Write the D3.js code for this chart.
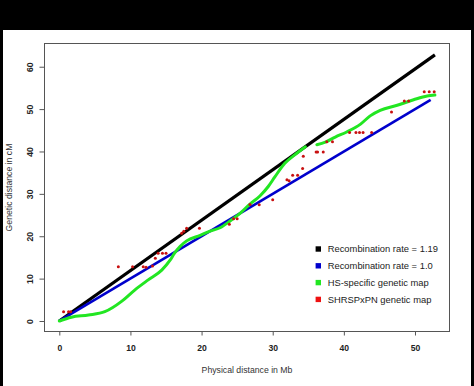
<!DOCTYPE html>
<html>
<head>
<meta charset="utf-8">
<script src="https://cdn.jsdelivr.net/npm/d3@7"></script>
<style>
  body { margin: 0; background: #000; }
  svg { display: block; }
  text { font-family: "Liberation Sans", Arial, sans-serif; }
</style>
</head>
<body>
<svg id="chart" width="474" height="386"></svg>
<script>
// recombination rate lines (end points)
const blackX = [0, 52.8];
const blackY = [0, 62.8];
const blueX = [0, 52.2];
const blueY = [0, 52.2];

// HS-specific genetic map (null = break in the line)
const greenX = [0, 1.7, 4.1, 6.4, 8.8, 10.6, 12.5, 14.4, 15.6, 16.2, 17.0, 17.9, 19.8, 21.2, 22.6, 24.0, 25.4,
  26.8, 28.2, 29.4, 30.3, 31.7, 33.1, 34.6, null, 36.2, 37.4, 38.8, 40.4, 42.3, 43.7, 45.1, 47.5, 49.8, 51.7, 52.8];
const greenY = [0, 0.9, 1.4, 2.2, 4.7, 7.3, 9.7, 12.0, 14.4, 16.0, 17.6, 18.9, 20.2, 21.2, 22.0, 23.6, 25.4,
  27.6, 29.5, 31.8, 34.0, 37.2, 39.2, 41.1, null, 41.6, 42.2, 43.4, 44.6, 46.4, 48.4, 49.7, 50.9, 52.2, 53.1, 53.3];

// SHRSPxPN genetic map markers
const redX = [0.6, 1.3, 1.6, 8.3, 10.3, 11.8, 12.2, 13.1, 13.5, 13.9, 14.5, 15.0, 17.2, 17.5, 17.9, 19.7,
  23.9, 24.5, 25.0, 26.8, 28.1, 30.0, 32.0, 32.3, 32.8, 33.5, 34.2, 34.3, 36.1, 36.3, 37.1, 37.6, 38.4,
  40.8, 41.7, 42.2, 42.7, 43.9, 46.7, 48.5, 49.1, 51.3, 52.0, 52.7];
const redY = [2.2, 2.2, 2.2, 12.8, 12.8, 12.8, 12.7, 13.0, 14.8, 16.0, 16.0, 16.0, 20.7, 21.2, 21.9, 21.9,
  22.8, 24.1, 24.1, 27.5, 27.4, 28.6, 33.3, 33.1, 34.4, 34.4, 36.0, 38.9, 39.9, 39.9, 39.9, 42.3, 42.3,
  44.5, 44.5, 44.5, 44.5, 44.5, 49.3, 51.9, 51.9, 54.1, 54.1, 54.1];

const xTicks = [0, 10, 20, 30, 40, 50];
const yTicks = [0, 10, 20, 30, 40, 50, 60];

const legendLabels = ['Recombination rate = 1.19', 'Recombination rate = 1.0', 'HS-specific genetic map', 'SHRSPxPN genetic map'];
const legendColors = ['#000000', '#0000cc', '#22e622', '#ee1111'];

const svg = d3.select('#chart');

// white page on black frame
svg.append('rect').attr('x', 3).attr('y', 30).attr('width', 468).attr('height', 356).attr('fill', '#fff');

const box = {left: 44.5, right: 449.5, top: 43.5, bottom: 331.5};

const x = d3.scaleLinear().domain([-2.08, 54.85]).range([box.left, box.right]);
const y = d3.scaleLinear().domain([-2.48, 65.48]).range([box.bottom, box.top]);

svg.append('rect')
  .attr('x', box.left).attr('y', box.top)
  .attr('width', box.right - box.left).attr('height', box.bottom - box.top)
  .attr('fill', 'none').attr('stroke', '#555').attr('stroke-width', 1);

// axes
const gx = svg.append('g')
  .attr('transform', `translate(0,${box.bottom})`)
  .call(d3.axisBottom(x).tickValues(xTicks).tickSize(4).tickPadding(9).tickSizeOuter(0));
gx.select('.domain').remove();

const gy = svg.append('g')
  .attr('transform', `translate(${box.left},0)`)
  .call(d3.axisLeft(y).tickValues(yTicks).tickSize(5).tickSizeOuter(0));
gy.select('.domain').remove();
gy.selectAll('.tick text')
  .attr('x', 0).attr('dy', 0)
  .attr('text-anchor', 'middle')
  .attr('transform', 'translate(-11.5,0) rotate(-90)');

svg.selectAll('.tick line').attr('stroke', '#555');
svg.selectAll('.tick text')
  .style('font-size', '8.6px')
  .style('font-weight', 'bold')
  .attr('fill', '#222');

// titles
svg.append('text')
  .attr('x', (box.left + box.right) / 2).attr('y', 372.5)
  .attr('text-anchor', 'middle')
  .style('font-size', '8.7px').attr('fill', '#333')
  .text('Physical distance in Mb');

svg.append('text')
  .attr('transform', `translate(11.5,${(box.top + box.bottom) / 2}) rotate(-90)`)
  .attr('text-anchor', 'middle')
  .style('font-size', '8.7px').attr('fill', '#333')
  .text('Genetic distance in cM');

// lines
const line = d3.line()
  .defined(d => d[0] !== null)
  .x(d => x(d[0]))
  .y(d => y(d[1]));

svg.append('path')
  .datum(d3.zip(blackX, blackY))
  .attr('d', line)
  .attr('fill', 'none').attr('stroke', legendColors[0]).attr('stroke-width', 3.2);

svg.append('path')
  .datum(d3.zip(blueX, blueY))
  .attr('d', line)
  .attr('fill', 'none').attr('stroke', legendColors[1]).attr('stroke-width', 2.6);

svg.append('path')
  .datum(d3.zip(greenX, greenY))
  .attr('d', line.curve(d3.curveMonotoneX))
  .attr('fill', 'none').attr('stroke', legendColors[2]).attr('stroke-width', 3)
  .attr('stroke-linecap', 'round');

svg.append('g')
  .selectAll('circle')
  .data(d3.zip(redX, redY))
  .join('circle')
  .attr('cx', d => x(d[0]))
  .attr('cy', d => y(d[1]))
  .attr('r', 1.5)
  .attr('fill', '#c81010');

// legend
const legend = svg.append('g')
  .selectAll('g')
  .data(legendLabels)
  .join('g')
  .attr('transform', (d, i) => `translate(318.3,${249 + i * 16.8})`);

legend.append('rect')
  .attr('x', -2.7).attr('y', -2.7)
  .attr('width', 5.4).attr('height', 5.4)
  .attr('fill', (d, i) => legendColors[i]);

legend.append('text')
  .attr('x', 9.4).attr('dy', '0.35em')
  .style('font-size', '9.4px').attr('fill', '#222')
  .text(d => d);
</script>
</body>
</html>
